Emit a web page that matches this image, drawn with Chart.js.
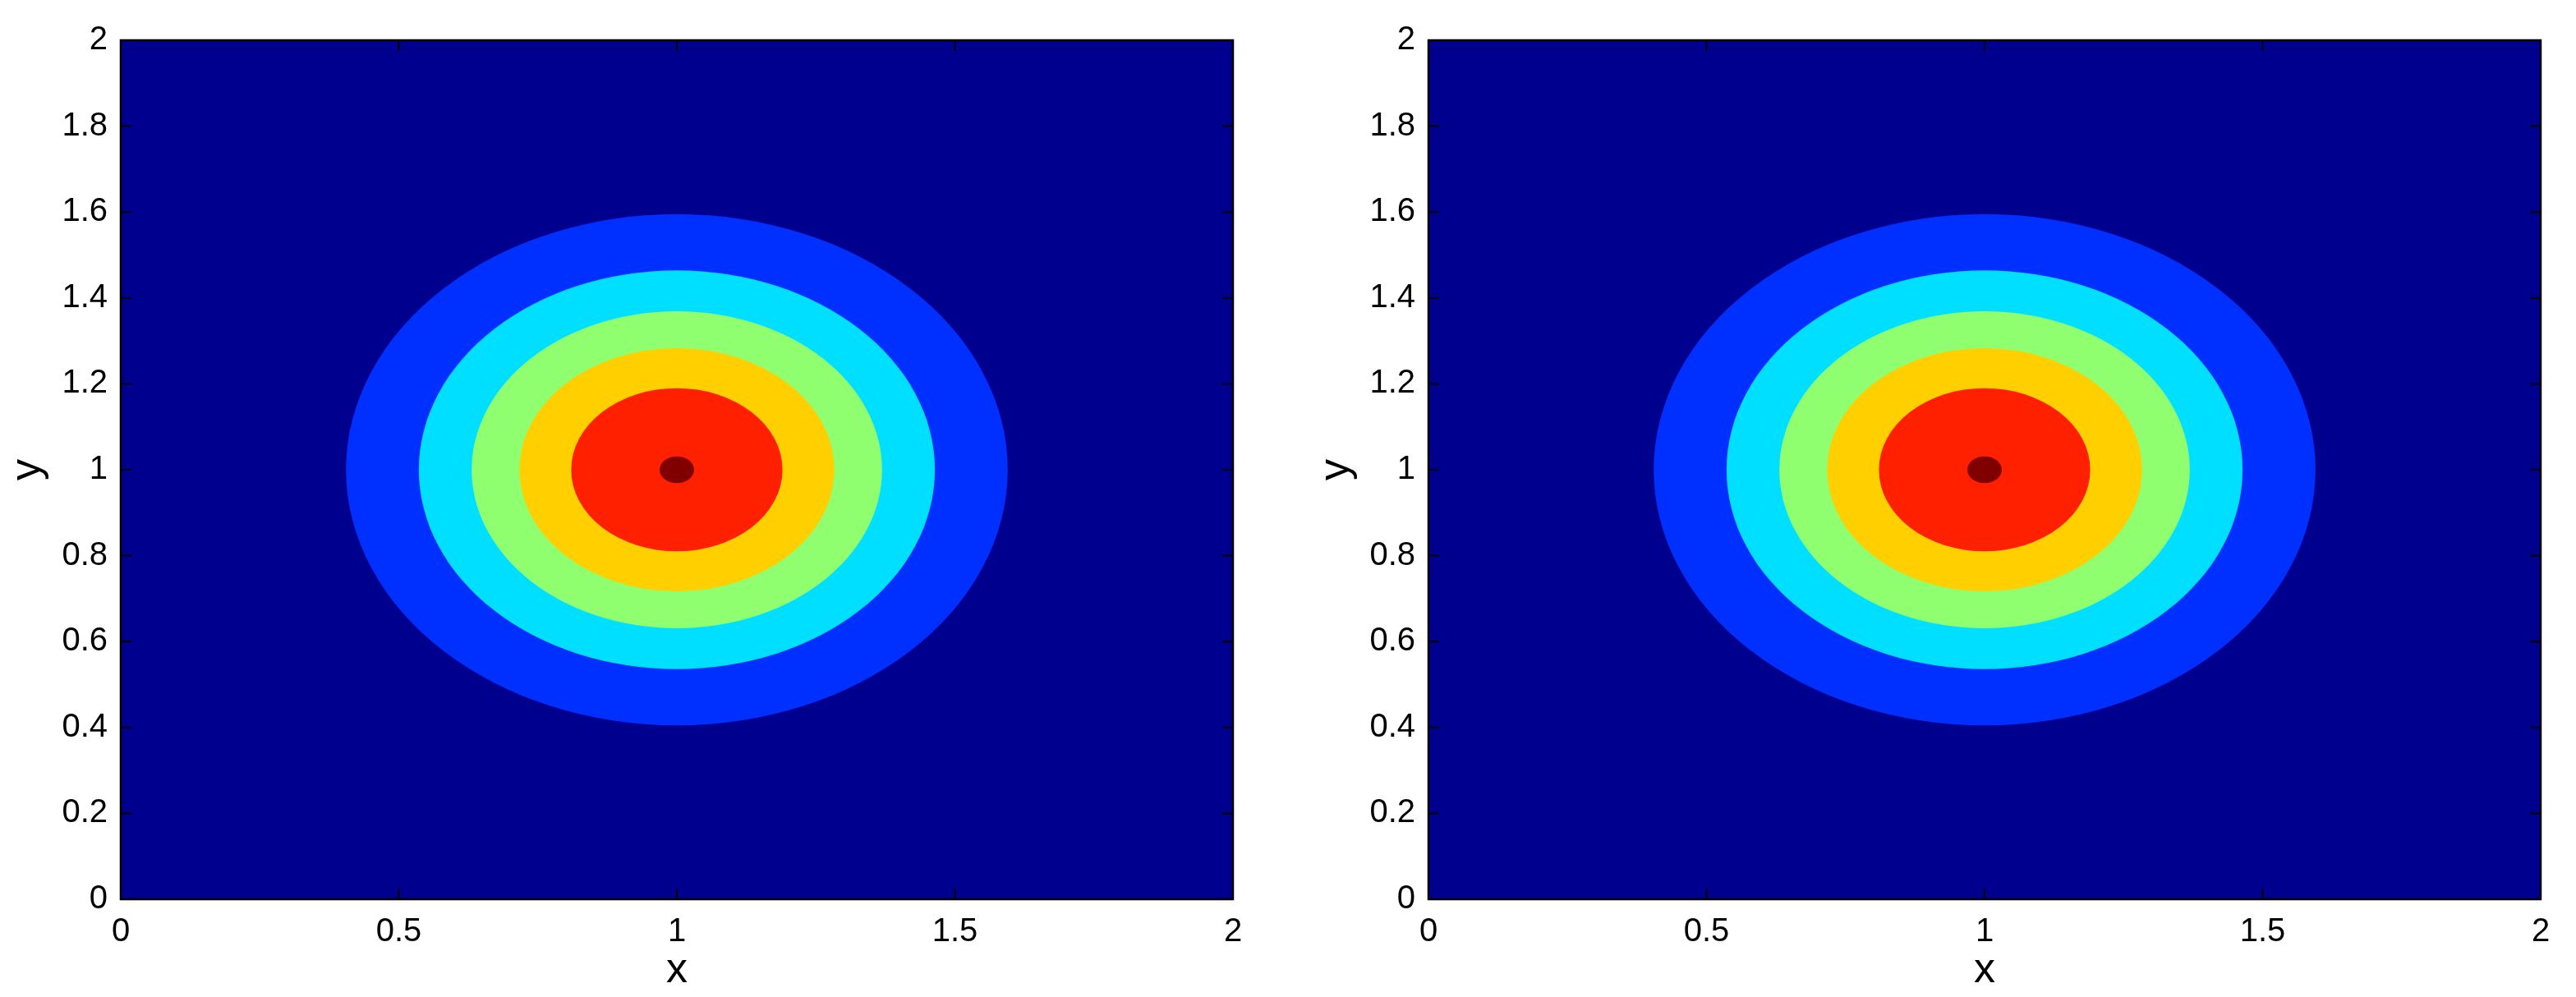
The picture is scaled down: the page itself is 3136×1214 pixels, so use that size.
<!DOCTYPE html>
<html>
<head>
<meta charset="utf-8">
<script src="https://cdn.jsdelivr.net/npm/chart.js@4/dist/chart.umd.min.js"></script>
<style>
  body { margin: 0; background: #fff; }
  .panel { position: absolute; top: 0; }
</style>
</head>
<body>
<canvas id="leftPlot" class="panel" width="1568" height="1214" style="left:0px"></canvas>
<canvas id="rightPlot" class="panel" width="1568" height="1214" style="left:1568px"></canvas>
<script>
// contour field: concentric level sets around the peak at (1, 1)
const centerX = 1;
const centerY = 1;
// radius (data units) of each filled level, outermost first
const levelRadii = [0.595, 0.464, 0.369, 0.283, 0.190, 0.031];

// axis ticks
const xTickValues = [0, 0.5, 1, 1.5, 2];
const xTickLabels = ['0', '0.5', '1', '1.5', '2'];
const yTickValues = [0, 0.2, 0.4, 0.6, 0.8, 1, 1.2, 1.4, 1.6, 1.8, 2];
const yTickLabels = ['0', '0.2', '0.4', '0.6', '0.8', '1', '1.2', '1.4', '1.6', '1.8', '2'];

// jet colours: background level then each ring
const backgroundColor = '#00008F';
const levelColors = ['#0030FF', '#00DFFF', '#8FFF70', '#FFCF00', '#FF2000', '#800000'];

const FONT = '"Liberation Sans", Arial, Helvetica, sans-serif';
const TICK_LEN = 13;

const contourPlugin = {
    id: 'contours',
    beforeDatasetsDraw(chart) {
        const { ctx, chartArea: a, scales: { x, y } } = chart;
        ctx.save();
        ctx.beginPath();
        ctx.rect(a.left, a.top, a.right - a.left, a.bottom - a.top);
        ctx.clip();
        ctx.fillStyle = backgroundColor;
        ctx.fillRect(a.left, a.top, a.right - a.left, a.bottom - a.top);
        chart.data.datasets.forEach(ds => {
            const pt = ds.data[0];
            const cx = x.getPixelForValue(pt.x);
            const cy = y.getPixelForValue(pt.y);
            const rx = Math.abs(x.getPixelForValue(pt.x + ds.levelRadius) - cx);
            const ry = Math.abs(y.getPixelForValue(pt.y + ds.levelRadius) - cy);
            ctx.beginPath();
            ctx.ellipse(cx, cy, rx, ry, 0, 0, Math.PI * 2);
            ctx.fillStyle = ds.backgroundColor;
            ctx.fill();
        });
        ctx.restore();
    },
    afterDatasetsDraw(chart) {
        const { ctx, chartArea: a, scales: { x, y } } = chart;
        ctx.save();
        ctx.strokeStyle = '#000';
        ctx.lineWidth = 2;
        ctx.beginPath();
        x.ticks.forEach(t => {
            const px = x.getPixelForValue(t.value);
            ctx.moveTo(px, a.bottom); ctx.lineTo(px, a.bottom - TICK_LEN);
            ctx.moveTo(px, a.top); ctx.lineTo(px, a.top + TICK_LEN);
        });
        y.ticks.forEach(t => {
            const py = y.getPixelForValue(t.value);
            ctx.moveTo(a.left, py); ctx.lineTo(a.left + TICK_LEN, py);
            ctx.moveTo(a.right, py); ctx.lineTo(a.right - TICK_LEN, py);
        });
        ctx.stroke();
        ctx.lineWidth = 2.5;
        ctx.strokeRect(a.left, a.top, a.right - a.left, a.bottom - a.top);
        ctx.restore();
    }
};

function makePanel(id, yAxisWidth, padRight, yTitlePad) {
    const datasets = levelRadii.map((r, i) => ({
        label: 'level ' + (i + 1),
        data: [{ x: centerX, y: centerY }],
        levelRadius: r,
        backgroundColor: levelColors[i],
        pointRadius: 0
    }));

    return new Chart(document.getElementById(id), {
        type: 'scatter',
        data: { datasets },
        plugins: [contourPlugin],
        options: {
            responsive: false,
            animation: false,
            devicePixelRatio: 1,
            layout: { padding: { top: 49, right: padRight, left: 0, bottom: 0 } },
            plugins: { legend: { display: false }, tooltip: { enabled: false } },
            scales: {
                x: {
                    type: 'linear',
                    min: 0, max: 2,
                    grid: { display: false },
                    border: { display: false },
                    afterBuildTicks: s => { s.ticks = xTickValues.map(v => ({ value: v })); },
                    afterFit: s => { s.height = 119; },
                    ticks: {
                        color: '#000',
                        padding: 8,
                        maxRotation: 0,
                        font: { family: FONT, size: 40 },
                        callback: (v, i) => xTickLabels[i]
                    },
                    title: {
                        display: true,
                        text: 'x',
                        color: '#000',
                        padding: { top: 0, bottom: 1 },
                        font: { family: FONT, size: 52 }
                    }
                },
                y: {
                    type: 'linear',
                    min: 0, max: 2,
                    grid: { display: false },
                    border: { display: false },
                    afterBuildTicks: s => { s.ticks = yTickValues.map(v => ({ value: v })); },
                    afterFit: s => { s.width = yAxisWidth; },
                    ticks: {
                        color: '#000',
                        padding: 8,
                        font: { family: FONT, size: 40 },
                        callback: (v, i) => yTickLabels[i]
                    },
                    title: {
                        display: true,
                        text: 'y',
                        color: '#000',
                        padding: { top: yTitlePad, bottom: 0 },
                        font: { family: FONT, size: 52 }
                    }
                }
            }
        }
    });
}

makePanel('leftPlot', 147, 67, 2);
makePanel('rightPlot', 171, 43, 27);
</script>
</body>
</html>
